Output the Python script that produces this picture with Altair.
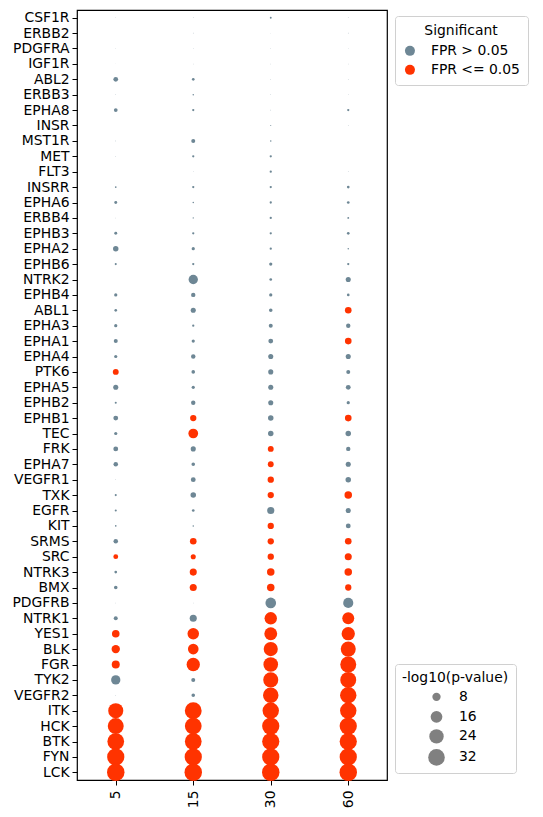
import altair as alt
import pandas as pd

kinases = ["CSF1R", "ERBB2", "PDGFRA", "IGF1R", "ABL2", "ERBB3", "EPHA8", "INSR", "MST1R", "MET",
           "FLT3", "INSRR", "EPHA6", "ERBB4", "EPHB3", "EPHA2", "EPHB6", "NTRK2", "EPHB4", "ABL1",
           "EPHA3", "EPHA1", "EPHA4", "PTK6", "EPHA5", "EPHB2", "EPHB1", "TEC", "FRK", "EPHA7",
           "VEGFR1", "TXK", "EGFR", "KIT", "SRMS", "SRC", "NTRK3", "BMX", "PDGFRB", "NTRK1",
           "YES1", "BLK", "FGR", "TYK2", "VEGFR2", "ITK", "HCK", "BTK", "FYN", "LCK"]

times = ["5", "15", "30", "60"]

# -log10(p-value) per time point (same order as kinases)
v5 = [0.02, 0, 0.02, 0.02, 2.6, 0.04, 1.6, 0, 0.04, 0.04,
      0, 0.35, 1.0, 0.03, 1.0, 3.4, 0.5, 0, 1.2, 0.85,
      1.2, 1.85, 1.2, 4.0, 3.0, 0.5, 2.7, 1.2, 2.7, 2.35,
      0.04, 0.5, 0.5, 0.3, 2.35, 2.7, 0.85, 1.5, 0.03, 1.85,
      6.7, 8.2, 7.4, 10.0, 0.04, 26.3, 29.5, 32.5, 34.5, 35.5]
v15 = [0.04, 0.04, 0.03, 0.03, 0.85, 0.25, 0.6, 0, 1.85, 0.6,
       0.03, 0.6, 0.25, 0.2, 0.6, 1.2, 0.6, 10.1, 2.25, 3.0,
       0.6, 1.2, 2.25, 1.5, 1.2, 2.25, 4.6, 11.0, 3.0, 1.5,
       2.7, 3.5, 0.85, 0.25, 5.1, 3.0, 5.8, 5.8, 0.03, 5.8,
       15.4, 13.1, 20.5, 1.85, 1.5, 32.8, 32.5, 32.5, 34.5, 35.5]
v30 = [0.4, 0.02, 0.03, 0.03, 0.04, 0.04, 0.04, 0.12, 0.25, 0.6,
       0.6, 0.6, 0.6, 0.6, 0.6, 0.6, 1.2, 0.85, 1.2, 1.5,
       1.85, 2.7, 3.0, 3.0, 3.0, 3.0, 3.5, 3.5, 4.0, 4.0,
       4.6, 4.6, 5.9, 4.6, 4.6, 4.6, 6.55, 6.55, 13.1, 17.8,
       19.2, 23.3, 24.8, 26.3, 27.9, 31.2, 34.5, 34.5, 34.5, 35.5]
v60 = [0.04, 0.04, 0.02, 0.03, 0.04, 0.03, 0.6, 0.04, 0, 0,
       0.04, 0.85, 0.85, 0.4, 0.85, 0.25, 0.6, 3.0, 0.85, 5.1,
       2.25, 5.1, 3.0, 1.85, 2.7, 1.2, 5.1, 3.5, 2.25, 3.0,
       3.5, 6.55, 3.0, 2.7, 5.1, 5.8, 6.55, 4.6, 12.0, 16.5,
       20.5, 26.3, 29.5, 29.5, 31.2, 31.2, 34.5, 34.5, 34.5, 35.5]

# significance flags (1 = FPR <= 0.05)
s5 = [0] * 23 + [1] + [0] * 11 + [1] + [0] * 4 + [1, 1, 1, 0, 0, 1, 1, 1, 1, 1]
s15 = [0] * 26 + [1, 1] + [0] * 6 + [1, 1, 1, 1, 0, 0, 1, 1, 1, 0, 0, 1, 1, 1, 1, 1]
s30 = [0] * 28 + [1, 1, 1, 1, 0, 1, 1, 1, 1, 1, 0] + [1] * 11
s60 = ([0] * 19 + [1, 0, 1] + [0] * 4 + [1] + [0] * 4 + [1, 0, 0, 1, 1, 1, 1, 0] + [1] * 11)

sig_labels = ["FPR > 0.05", "FPR <= 0.05"]
size_legend_values = [8, 16, 24, 32]

rows = []
for t, vals, sigs in zip(times, [v5, v15, v30, v60], [s5, s15, s30, s60]):
    for k, v, s in zip(kinases, vals, sigs):
        rows.append({"kinase": k, "time": t, "score": v, "Significant": sig_labels[s]})
df = pd.DataFrame(rows)

FONT = "DejaVu Sans"
FS = 13.9

chart = alt.Chart(df).mark_circle(opacity=1).encode(
    x=alt.X("time:N", sort=times, title=None,
            axis=alt.Axis(labelAngle=270, labelFontSize=FS, labelColor="black",
                          tickColor="black", tickSize=5, domain=False, labelPadding=5)),
    y=alt.Y("kinase:N", sort=kinases, title=None,
            axis=alt.Axis(labelFontSize=FS, labelColor="black", tickColor="black",
                          tickSize=5, domain=False, labelPadding=3)),
    color=alt.Color("Significant:N",
                    scale=alt.Scale(domain=sig_labels, range=["#6e8795", "#ff3300"]),
                    legend=alt.Legend(title="Significant", orient="none", legendX=318, legendY=6,
                                      titleAnchor="middle", titleFontWeight="normal",
                                      titleFontSize=FS, labelFontSize=FS, titleColor="black",
                                      labelColor="black", symbolSize=100, symbolType="circle",
                                      strokeColor="#d0d0d0", cornerRadius=3, padding=8,
                                      rowPadding=4, titlePadding=6, labelOffset=14,
                                      fillColor="white")),
    size=alt.Size("score:Q",
                  scale=alt.Scale(domain=[0, 40], range=[0, 345]),
                  legend=alt.Legend(title="-log10(p-value)", orient="none", legendX=318, legendY=654,
                                    values=size_legend_values, titleFontWeight="normal",
                                    titleFontSize=FS, labelFontSize=FS, titleColor="black",
                                    labelColor="black", symbolFillColor="#808080",
                                    symbolStrokeWidth=0, strokeColor="#d0d0d0", cornerRadius=3,
                                    padding=7, rowPadding=5, titlePadding=5, labelOffset=14,
                                    symbolOffset=26, fillColor="white")),
).properties(
    width=310, height=770,
    padding={"left": 3, "top": 2, "right": 0, "bottom": 0},
).configure(
    font=FONT
).configure_view(
    stroke="black", strokeWidth=1.2
)

chart.save("out.html", embed_options={"renderer": "svg", "actions": False})
